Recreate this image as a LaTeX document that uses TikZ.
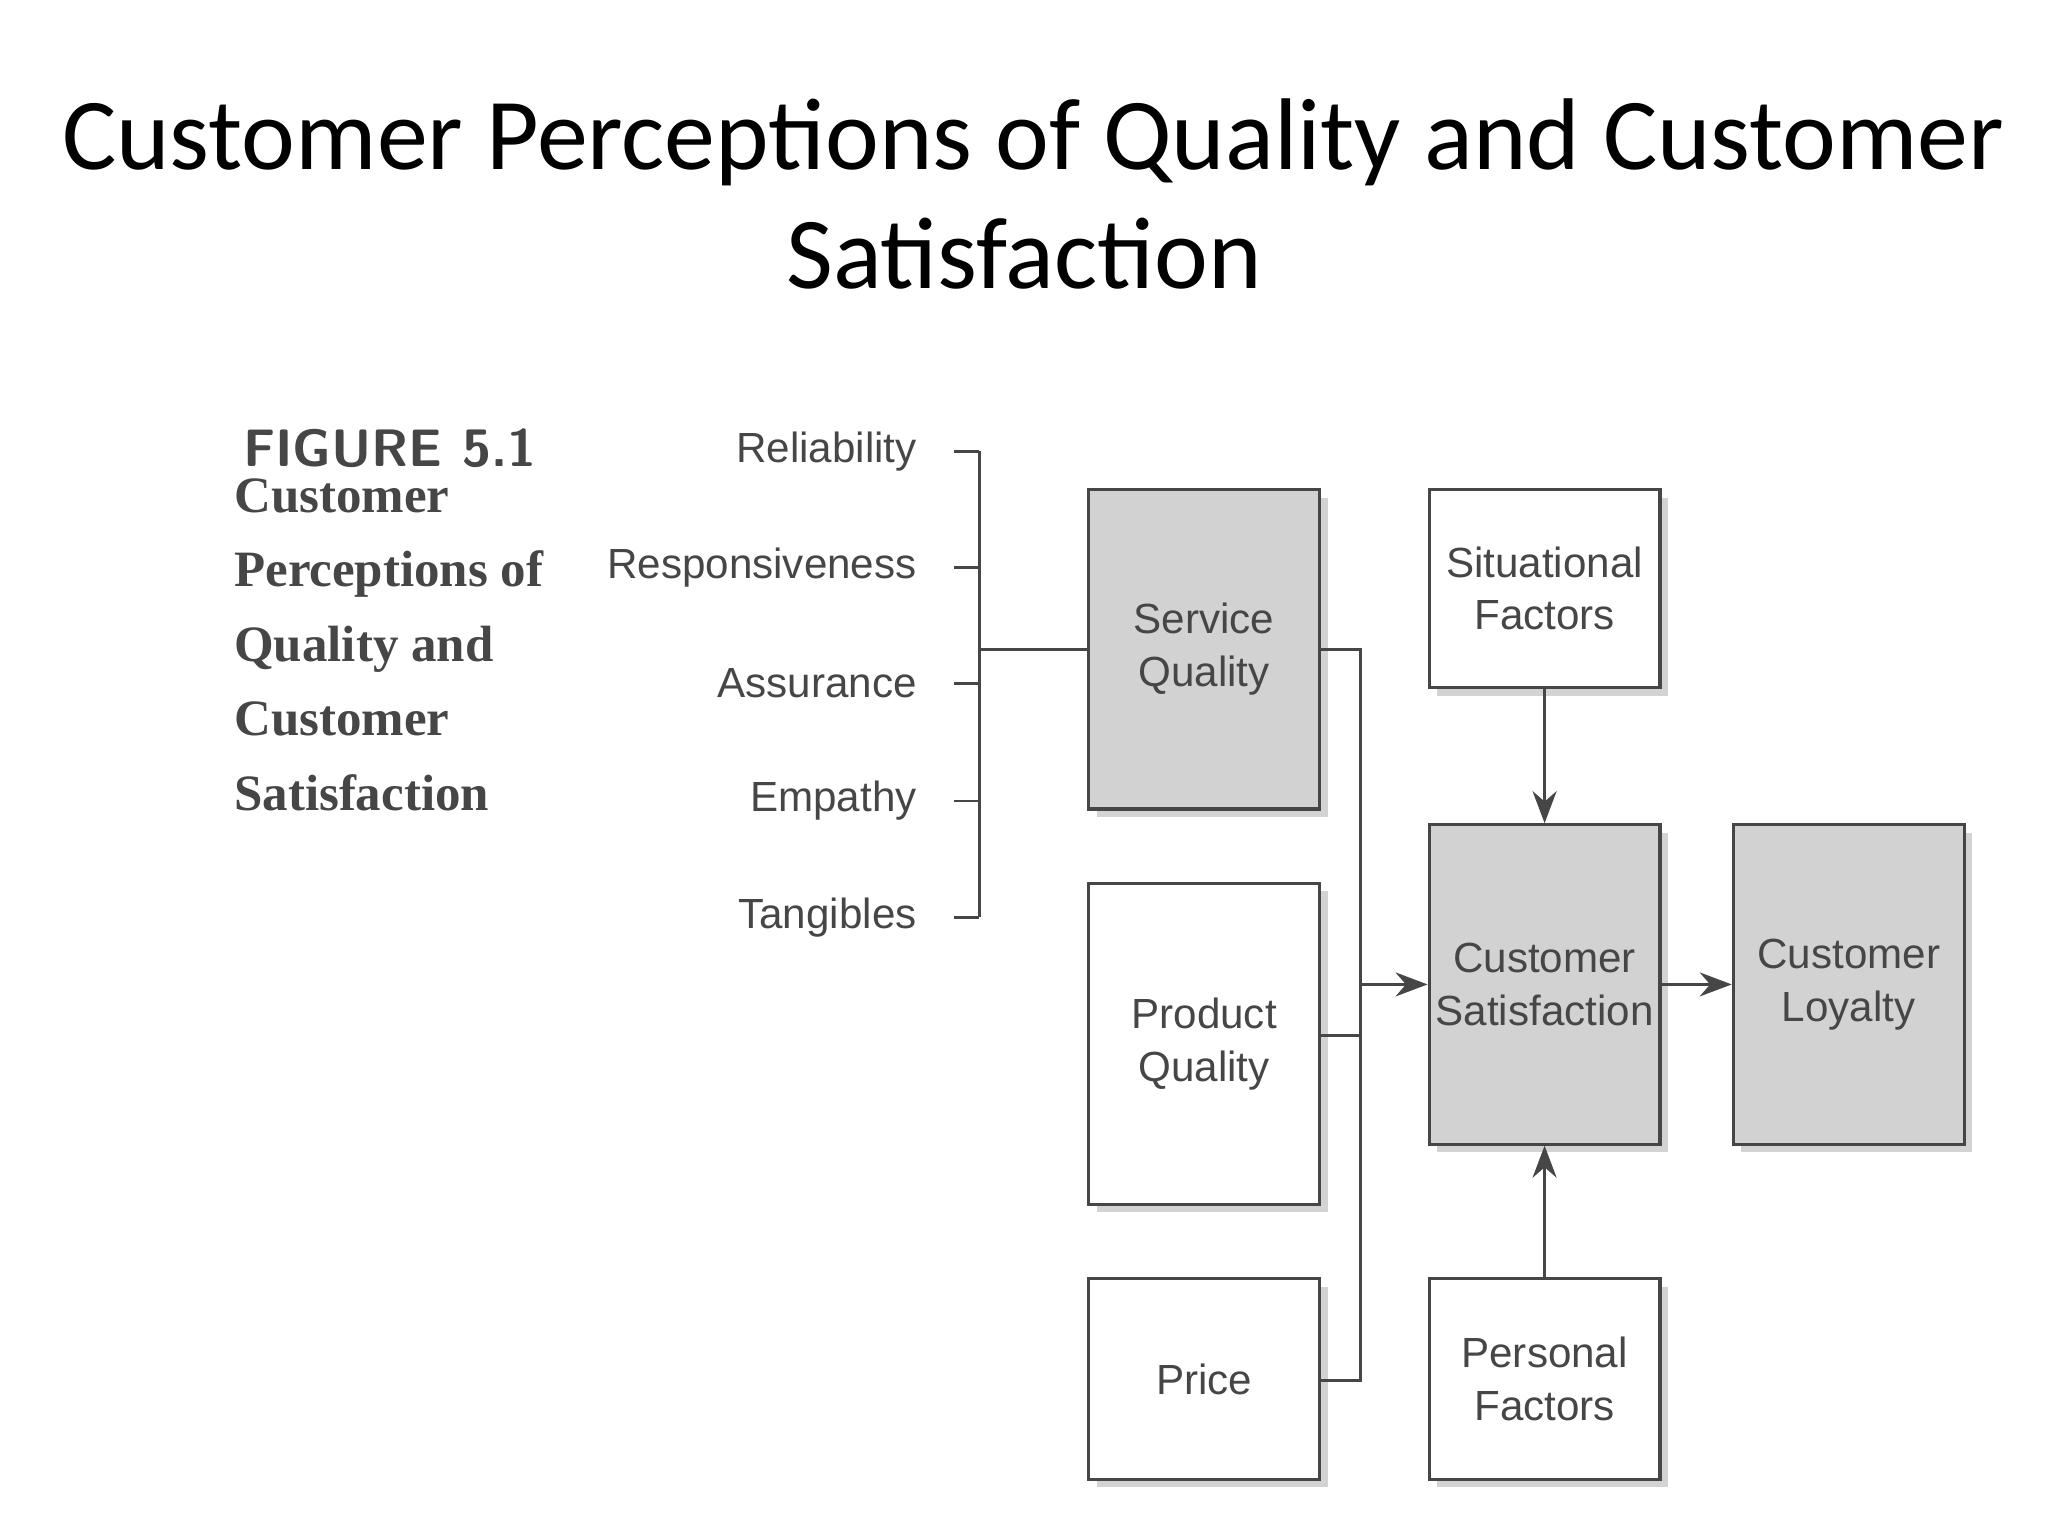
\documentclass[tikz,border=0pt]{standalone}
\usepackage{fontspec}
\setmainfont{Carlito}
\newfontfamily\diag{Liberation Sans}
\newfontfamily\serifb{Liberation Serif}
\usetikzlibrary{shadows,arrows.meta}
\definecolor{ink}{RGB}{70,70,70}
\definecolor{boxgray}{RGB}{210,210,210}
\tikzset{
  bx/.style={draw=ink,line width=0.9pt,minimum width=175\ux,inner sep=0pt,align=center,font=\diag\fontsize{12}{15}\selectfont,text=ink,drop shadow={shadow xshift=0.8mm,shadow yshift=-0.8mm,opacity=0.35}},
  lbl/.style={anchor=east,font=\diag\fontsize{12}{14}\selectfont,text=ink},
  ln/.style={draw=ink,line width=0.8pt},
  ar/.style={ln,-{Stealth[length=3.2mm,width=2.4mm]}},
}
\newlength{\ux}\setlength{\ux}{0.0132cm}
\begin{document}
\begin{tikzpicture}[x=0.0132cm,y=-0.0132cm]
\useasboundingbox (0,0) rectangle (1552,1164);
\node[font=\fontsize{29}{34}\selectfont] (t1) at (783,108) {Customer Perceptions of Quality and Customer};
\node[font=\fontsize{29}{34}\selectfont] (t2) at (776,192) {Satisfaction};
\node[anchor=west,font=\bfseries\sffamily\fontsize{15}{18}\selectfont,text=ink] (fig) at (175,340) {FIGURE 5.1};
\node[anchor=north west,align=left,inner sep=0pt,font=\serifb\bfseries\fontsize{14.5}{21.2}\selectfont,text=ink] (cap) at (177,362) {Customer\\Perceptions of\\Quality and\\Customer\\Satisfaction};
\foreach \n/\t/\y in {r/Reliability/342,rs/Responsiveness/430,a/Assurance/518,e/Empathy/607,tg/Tangibles/695}{
  \node[lbl] (\n) at (704,\y) {\t};
  \coordinate (\n e) at (742,\y);
  \draw[ln] (723,\y) -- (\n e);
}
\draw[ln] (re) -- (tge);
\node[bx,fill=boxgray,minimum height=242\ux] (sq) at (912.5,492) {Service\\Quality};
\node[bx,fill=white,minimum height=243\ux] (pq) at (912.5,791) {Product\\Quality};
\node[bx,fill=white,minimum height=152\ux] (pr) at (912.5,1045) {Price};
\node[bx,fill=white,minimum height=150\ux] (sf) at (1170.5,446) {Situational\\Factors};
\node[bx,fill=boxgray,minimum height=242\ux] (cs) at (1170.5,746) {Customer\\Satisfaction};
\node[bx,fill=white,minimum height=152\ux] (pf) at (1170.5,1045) {Personal\\Factors};
\node[bx,fill=boxgray,minimum height=242\ux] (cl) at (1401,746) {Customer\\Loyalty};
\coordinate (j) at (742,492);
\draw[ln] (j) -- (sq.west);
\coordinate (v1) at (1031,492);
\coordinate (v2) at (1031,1046);
\coordinate (vm) at (1031,746);
\draw[ln] (sq.east |- v1) -- (v1) -- (v2) -- (pr.east |- v2);
\draw[ln] (pq.east |- 0,785) -- (1031,785);
\draw[ar] (vm) -- (cs.west);
\draw[ar] (cs.east) -- (cl.west);
\draw[ar] (sf.south) -- (cs.north);
\draw[ar] (pf.north) -- (cs.south);
\end{tikzpicture}
\end{document}
